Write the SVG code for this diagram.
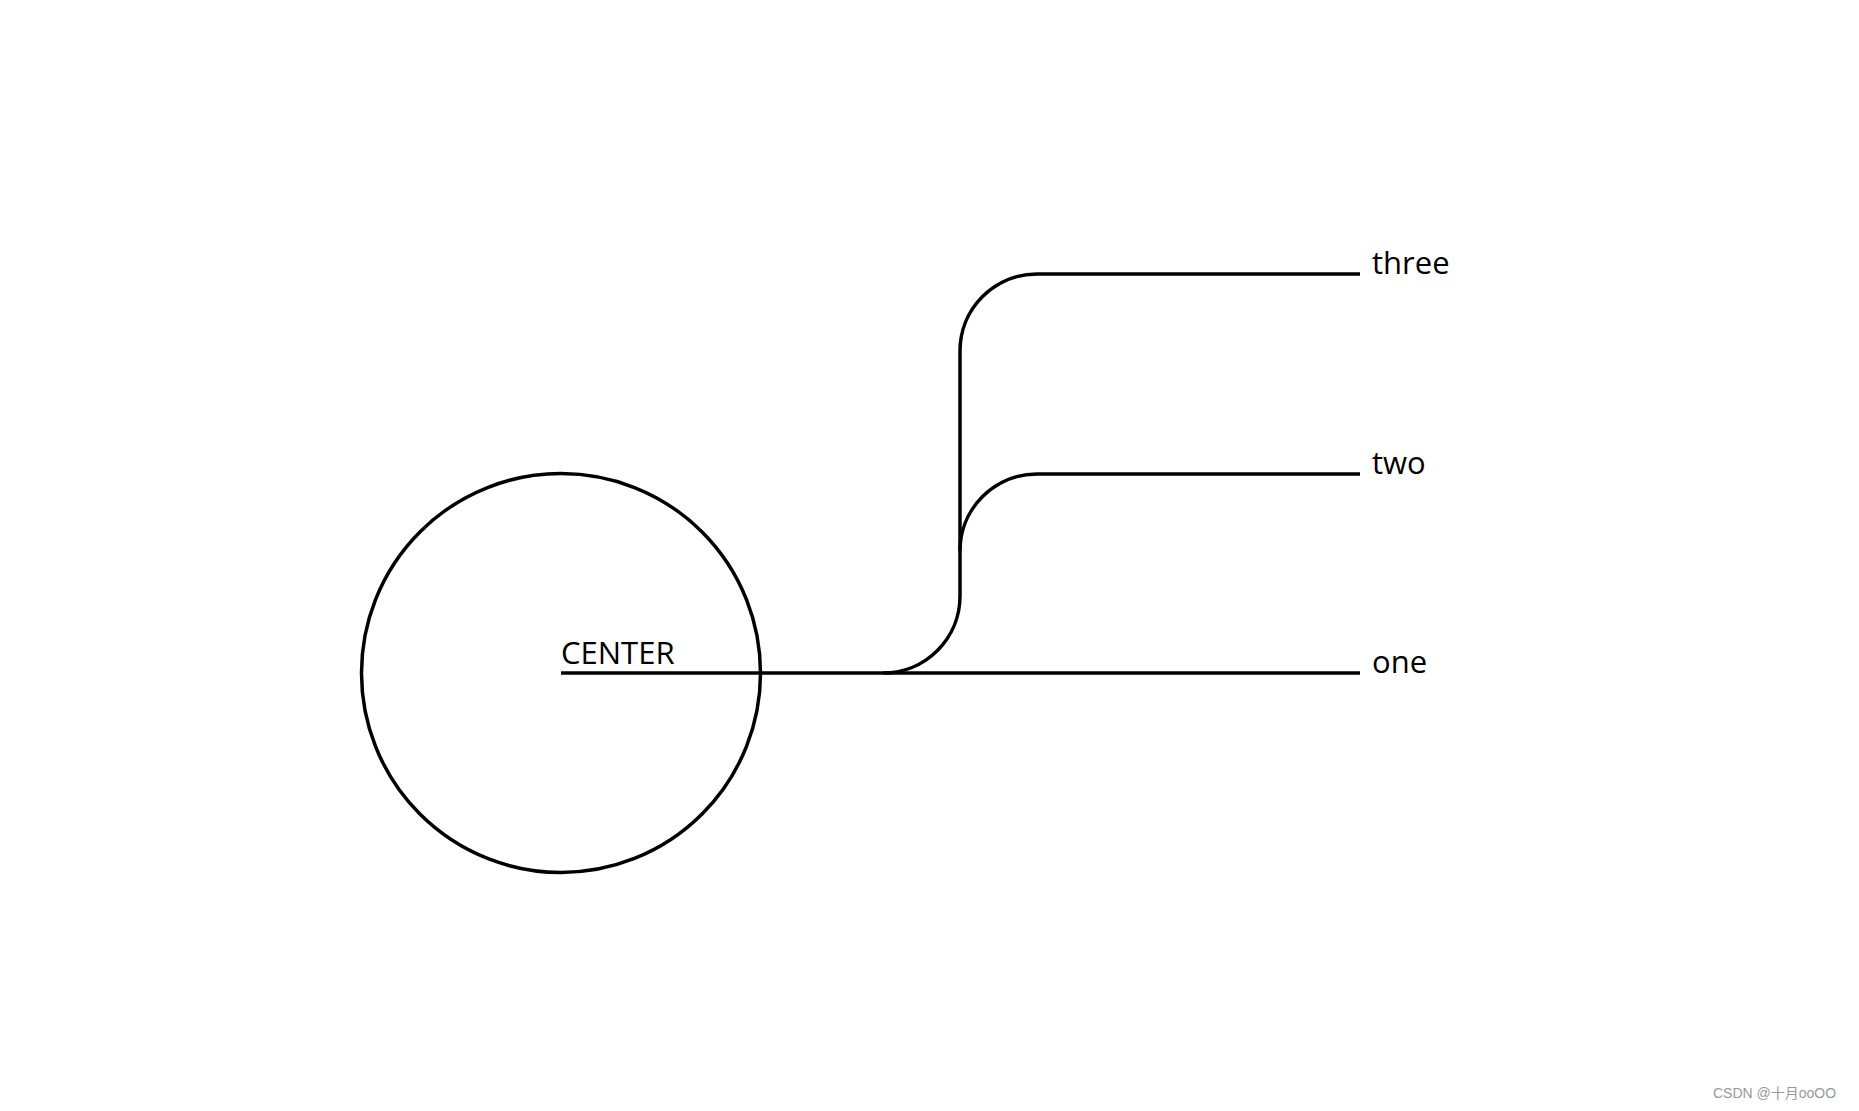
<svg xmlns="http://www.w3.org/2000/svg" width="1859" height="1111" viewBox="0 0 1859 1111">
<style>
.ln{fill:none;stroke:#000;stroke-width:3.5}
.t{font-family:"Open Sans","Noto Sans",sans-serif;font-size:31px;fill:#000}
.wm{font-family:"Liberation Sans","Noto Sans CJK SC",sans-serif;font-size:14px;fill:#999}
</style>
<rect width="1859" height="1111" fill="#fff"/>
<g id="center">
<circle class="ln" cx="561" cy="673" r="199.5"/>
<text class="t" x="561" y="664">CENTER</text>
</g>
<g id="connectors">
<path class="ln" d="M561 673 H1360"/>
<path class="ln" d="M883 673 A77 77 0 0 0 960 596 V351 A77 77 0 0 1 1037 274 H1360"/>
<path class="ln" d="M960 551 A77 77 0 0 1 1037 474 H1360"/>
</g>
<g id="one"><text class="t" x="1372" y="673">one</text></g>
<g id="two"><text class="t" x="1372" y="474">two</text></g>
<g id="three"><text class="t" x="1372" y="274">three</text></g>
<text class="wm" x="1713" y="1098">CSDN @十月ooOO</text>
</svg>
